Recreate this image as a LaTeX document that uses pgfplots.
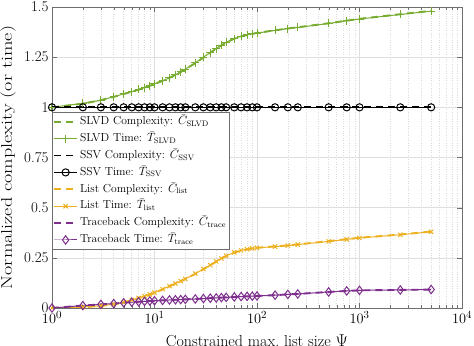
\documentclass[border=0pt]{standalone}
\usepackage{pgfplots}
\usepackage{pgfplotstable}
\pgfplotsset{compat=1.18}
\definecolor{mgreen}{RGB}{119,172,48}
\definecolor{myellow}{RGB}{237,177,32}
\definecolor{mpurple}{RGB}{126,47,142}
\definecolor{axgray}{RGB}{110,110,110}

\pgfplotstableread{
x C T
1 1.000 1.000
2 1.018 1.020
3 1.036 1.035
4 1.052 1.053
5 1.066 1.067
6 1.078 1.078
7 1.088 1.089
8 1.098 1.098
9 1.107 1.108
10 1.116 1.117
12 1.132 1.133
14 1.147 1.147
16 1.161 1.162
18 1.176 1.177
20 1.190 1.191
25 1.220 1.221
30 1.248 1.250
35 1.272 1.273
40 1.292 1.293
45 1.309 1.310
50 1.323 1.324
60 1.342 1.343
70 1.353 1.354
80 1.360 1.361
90 1.366 1.366
100 1.371 1.370
150 1.384 1.383
200 1.393 1.392
250 1.399 1.398
500 1.419 1.418
750 1.432 1.431
1000 1.441 1.440
2500 1.464 1.463
5000 1.481 1.479
}\slvd

\pgfplotstableread{
x C T
1 1 1
2 1 1
3 1 1
4 1 1
5 1 1
6 1 1
7 1 1
8 1 1
9 1 1
10 1 1
12 1 1
14 1 1
16 1 1
18 1 1
20 1 1
25 1 1
30 1 1
35 1 1
40 1 1
45 1 1
50 1 1
60 1 1
70 1 1
80 1 1
90 1 1
100 1 1
150 1 1
200 1 1
250 1 1
500 1 1
750 1 1
1000 1 1
2500 1 1
5000 1 1
}\ssv

\pgfplotstableread{
x C T
1 0.000 0.000
2 0.004 0.005
3 0.010 0.011
4 0.018 0.019
5 0.028 0.029
6 0.039 0.040
7 0.049 0.050
8 0.058 0.059
9 0.067 0.068
10 0.076 0.077
12 0.093 0.094
14 0.108 0.109
16 0.121 0.122
18 0.133 0.134
20 0.144 0.145
25 0.170 0.171
30 0.193 0.194
35 0.213 0.214
40 0.231 0.232
45 0.246 0.247
50 0.259 0.260
60 0.276 0.277
70 0.286 0.287
80 0.293 0.293
90 0.297 0.297
100 0.300 0.300
150 0.307 0.306
200 0.312 0.311
250 0.317 0.316
500 0.333 0.332
750 0.343 0.342
1000 0.350 0.349
2500 0.366 0.365
5000 0.381 0.380
}\listd

\pgfplotstableread{
x C T
1 0.000 0.000
2 0.012 0.012
3 0.018 0.018
4 0.022 0.022
5 0.026 0.026
6 0.029 0.029
7 0.031 0.031
8 0.033 0.033
9 0.035 0.035
10 0.036 0.036
12 0.038 0.038
14 0.040 0.040
16 0.041 0.041
18 0.042 0.042
20 0.043 0.043
25 0.045 0.045
30 0.047 0.047
35 0.049 0.049
40 0.050 0.050
45 0.052 0.052
50 0.053 0.053
60 0.055 0.055
70 0.057 0.057
80 0.058 0.058
90 0.059 0.059
100 0.060 0.060
150 0.064 0.064
200 0.068 0.068
250 0.070 0.070
500 0.080 0.080
750 0.085 0.085
1000 0.088 0.088
2500 0.090 0.090
5000 0.092 0.092
}\trace

\begin{document}
\begin{tikzpicture}
\begin{axis}[
  scale only axis,
  width=410bp, height=301bp,
  xmode=log, xmin=1, xmax=1e4, ymin=0, ymax=1.5,
  ytick={0,0.25,0.5,0.75,1,1.25,1.5},
  yticklabels={0,0.25,0.5,0.75,1,1.25,1.5},
  axis line style={axgray, line width=0.7bp},
  tick style={axgray},
  tick align=inside,
  major tick length=5bp, minor tick length=3bp,
  xtick pos=both, ytick pos=both,
  grid=both,
  major grid style={black!13, line width=0.6bp},
  minor grid style={black!14, dotted, line width=0.6bp},
  yminorgrids=false,
  tick label style={font=\fontsize{15}{17}\selectfont},
  xlabel={Constrained max.\ list size $\Psi$},
  ylabel={Normalized complexity (or time)},
  xlabel style={at={([yshift=-27bp]rel axis cs:0.5,0)}, anchor=north, inner sep=0pt, font=\fontsize{16}{18}\selectfont},
  ylabel style={at={([xshift=-36bp]rel axis cs:0,0.5)}, anchor=south, inner sep=0pt, font=\fontsize{15.5}{17}\selectfont, xscale=1.3},
  legend style={at={(rel axis cs:0,0.651)}, anchor=north west, draw=axgray, inner sep=1bp,
     font=\fontsize{11.6}{13}\selectfont,
     nodes={text height=8.5bp, text depth=3bp, inner ysep=2.7bp, inner xsep=2bp}},
  legend cell align=left,
  legend image code/.code={\draw[mark repeat=2,mark phase=2] plot coordinates {(0bp,0bp)(11.5bp,0bp)(23bp,0bp)};},
]
\addplot[mgreen, line width=1.9bp, dash pattern=on 7bp off 5bp] table[x=x,y=C]{\slvd};
\addlegendentry{SLVD Complexity: $\bar{C}_{\mathrm{SLVD}}$}
\addplot[mgreen, line width=1bp, mark=+, mark size=4bp, mark options={solid}] table[x=x,y=T]{\slvd};
\addlegendentry{SLVD Time: $\bar{T}_{\mathrm{SLVD}}$}
\addplot[black, line width=1.9bp, dash pattern=on 7bp off 5bp] table[x=x,y=C]{\ssv};
\addlegendentry{SSV Complexity: $\bar{C}_{\mathrm{SSV}}$}
\addplot[black, line width=1bp, mark=o, mark size=3.6bp, mark options={solid}] table[x=x,y=T]{\ssv};
\addlegendentry{SSV Time: $\bar{T}_{\mathrm{SSV}}$}
\addplot[myellow, line width=1.9bp, dash pattern=on 7bp off 5bp] table[x=x,y=C]{\listd};
\addlegendentry{List Complexity: $\bar{C}_{\mathrm{list}}$}
\addplot[myellow, line width=1bp, mark=x, mark size=3bp, mark options={solid}] table[x=x,y=T]{\listd};
\addlegendentry{List Time: $\bar{T}_{\mathrm{list}}$}
\addplot[mpurple, line width=1.9bp, dash pattern=on 7bp off 5bp] table[x=x,y=C]{\trace};
\addlegendentry{Traceback Complexity: $\bar{C}_{\mathrm{trace}}$}
\addplot[mpurple, line width=1bp, mark=diamond, mark size=4.2bp, mark options={solid}] table[x=x,y=T]{\trace};
\addlegendentry{Traceback Time: $\bar{T}_{\mathrm{trace}}$}
\end{axis}
\pgfresetboundingbox
\useasboundingbox (-52bp,-38bp) rectangle (422bp,308bp);
\end{tikzpicture}
\end{document}
